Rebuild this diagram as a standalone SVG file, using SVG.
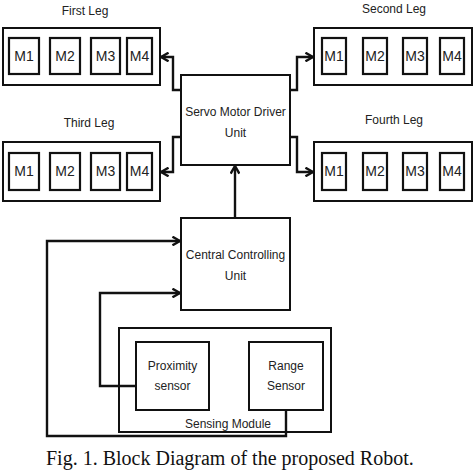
<svg xmlns="http://www.w3.org/2000/svg" width="474" height="470" viewBox="0 0 474 470">
<style>
.box{fill:#fff;stroke:#111;stroke-width:2}
.mb{fill:#fff;stroke:#111;stroke-width:2.2}
.t{font-family:"Liberation Sans",Arial,sans-serif;font-size:12px;fill:#222;text-anchor:middle}
.m{font-family:"Liberation Sans",Arial,sans-serif;font-size:14px;fill:#222;text-anchor:middle}
.c{fill:none;stroke:#111;stroke-width:2.4}
.cap{font-family:"Liberation Serif","Times New Roman",serif;font-size:20px;fill:#111}
</style>
<defs>
<marker id="ah" viewBox="0 0 10 10" refX="9" refY="5" markerWidth="4.5" markerHeight="4.5" orient="auto" markerUnits="strokeWidth">
<polyline points="2,1 9,5 2,9" fill="none" stroke="#111" stroke-width="2.2"/>
</marker>
</defs>
<text class="cap" x="46" y="465">Fig. 1. Block Diagram of the proposed Robot.</text>
<g id="first-leg">
<text class="t" x="85" y="15">First Leg</text>
<rect class="box" x="3" y="28" width="157" height="57"/>
<rect class="mb" x="9" y="38" width="30" height="36"/><text class="m" x="24" y="61">M1</text>
<rect class="mb" x="50" y="38" width="30" height="36"/><text class="m" x="65" y="61">M2</text>
<rect class="mb" x="91" y="38" width="29" height="36"/><text class="m" x="105.5" y="61">M3</text>
<rect class="mb" x="127" y="38" width="25" height="36"/><text class="m" x="139.5" y="61">M4</text>
</g>
<g id="second-leg">
<text class="t" x="394" y="13">Second Leg</text>
<rect class="box" x="314" y="28" width="158" height="57"/>
<rect class="mb" x="322" y="38" width="24" height="36"/><text class="m" x="334" y="61">M1</text>
<rect class="mb" x="363" y="38" width="24" height="36"/><text class="m" x="375" y="61">M2</text>
<rect class="mb" x="403" y="38" width="24" height="36"/><text class="m" x="415" y="61">M3</text>
<rect class="mb" x="440" y="38" width="24" height="36"/><text class="m" x="452" y="61">M4</text>
</g>
<g id="third-leg">
<text class="t" x="89" y="127">Third Leg</text>
<rect class="box" x="3" y="142" width="157" height="59"/>
<rect class="mb" x="9" y="153" width="30" height="37"/><text class="m" x="24" y="176">M1</text>
<rect class="mb" x="50" y="153" width="30" height="37"/><text class="m" x="65" y="176">M2</text>
<rect class="mb" x="91" y="153" width="29" height="37"/><text class="m" x="105.5" y="176">M3</text>
<rect class="mb" x="127" y="153" width="25" height="37"/><text class="m" x="139.5" y="176">M4</text>
</g>
<g id="fourth-leg">
<text class="t" x="394" y="124">Fourth Leg</text>
<rect class="box" x="314" y="142" width="158" height="59"/>
<rect class="mb" x="322" y="153" width="24" height="37"/><text class="m" x="334" y="176">M1</text>
<rect class="mb" x="363" y="153" width="24" height="37"/><text class="m" x="375" y="176">M2</text>
<rect class="mb" x="403" y="153" width="24" height="37"/><text class="m" x="415" y="176">M3</text>
<rect class="mb" x="440" y="153" width="24" height="37"/><text class="m" x="452" y="176">M4</text>
</g>
<g id="servo">
<rect class="box" x="181" y="75" width="109" height="90"/>
<text class="t" x="235.5" y="116">Servo Motor Driver</text>
<text class="t" x="235.5" y="137">Unit</text>
</g>
<g id="ccu">
<rect class="box" x="181" y="218" width="109" height="92"/>
<text class="t" x="235.5" y="259">Central Controlling</text>
<text class="t" x="235.5" y="280">Unit</text>
</g>
<g id="sensing-module">
<rect class="box" x="119" y="328" width="212" height="104"/>
<text class="t" x="228" y="428">Sensing Module</text>
</g>
<g id="proximity">
<rect class="box" x="136" y="342" width="73" height="68"/>
<text class="t" x="172.5" y="370">Proximity</text>
<text class="t" x="172.5" y="390">sensor</text>
</g>
<g id="range">
<rect class="box" x="249" y="342" width="74" height="68"/>
<text class="t" x="286" y="370">Range</text>
<text class="t" x="286" y="390">Sensor</text>
</g>
<g id="connectors">
<polyline class="c" points="181,90 173,90 173,57 161,57" marker-end="url(#ah)"/>
<polyline class="c" points="290,90 297,90 297,57 313,57" marker-end="url(#ah)"/>
<polyline class="c" points="181,137 173,137 173,172 161,172" marker-end="url(#ah)"/>
<polyline class="c" points="290,137 297,137 297,172 313,172" marker-end="url(#ah)"/>
<polyline class="c" points="235,218 235,166" marker-end="url(#ah)"/>
<polyline class="c" points="286,410 286,436 47,436 47,241 180,241" marker-end="url(#ah)"/>
<polyline class="c" points="136,386 100,386 100,293 180,293" marker-end="url(#ah)"/>
</g>
</svg>
